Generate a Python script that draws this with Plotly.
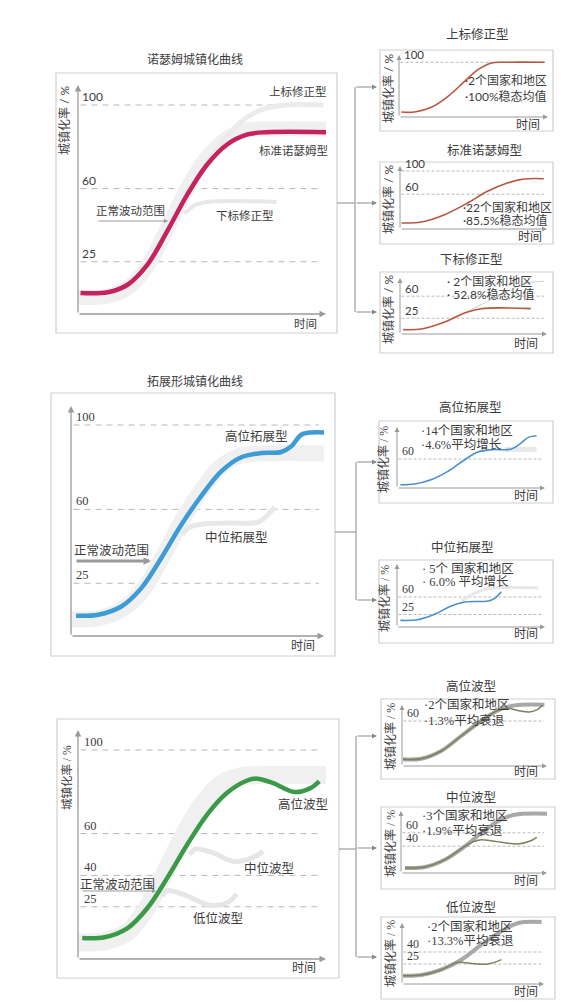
import plotly.graph_objects as go

W, H = 586, 1006


def fx(p):
    return p / W


def fy(p):
    return 1 - p / H


SANS = "Lato, Noto Sans CJK SC, sans-serif"
SERIF = "Liberation Serif, Noto Sans CJK SC, serif"
GRID = "#b8b8b8"
AXIS = "#9a9a9a"
BOX = "#cfcfcf"
TEXT = "#3c3c3c"
BAND = "#f0f0f0"

# ---------------- data (time 0-100, urbanization %) ----------------
# 诺瑟姆城镇化曲线
n_t = [1, 12, 20, 28, 36, 44, 52, 60, 68, 76, 100]
n_std = [10, 10.4, 14, 23.6, 39.7, 57, 71.4, 81, 85.8, 87, 87]
n_band_t = [0, 12, 20, 28, 36, 44, 52, 60, 68, 76, 100]
n_band = [8, 8.5, 12.5, 23, 41, 60, 75, 84, 88, 88.5, 88.5]
n_up_t = [52, 58, 64, 70, 76, 84, 99]
n_up = [72, 82, 90, 95.5, 98.5, 100, 100]
n_low_t = [43, 47, 52, 80]
n_low = [48, 52, 53.6, 53.6]
n_levels = [100, 60, 25]

# 拓展形城镇化曲线
e_t = [2, 10.7, 19.9, 27.8, 35.7, 43.6, 50.9, 59.4, 67.3, 75.2, 83.1, 87.1, 91, 95, 100]
e_high = [9.6, 10.1, 14, 22.7, 37, 52.7, 65.4, 78, 84.7, 86.7, 87.2, 89.9, 95.4, 96.5, 96.5]
e_band_t = [0, 11, 20, 28, 36, 44, 51, 59, 67, 75, 100]
e_band = [8, 8.5, 12.5, 21, 37, 55, 68, 80, 85.5, 86.5, 86.5]
e_mid_t = [44, 46.2, 51.5, 62, 74, 77.9, 80.5]
e_mid = [48, 51.2, 53, 53.5, 54, 57.5, 61]
e_levels = [100, 60, 25]

# 波动形城镇化曲线
w_t = [1.7, 10.7, 20, 28, 36, 44, 52, 60, 68, 72.3, 78.7, 87.3, 93.3, 97.3]
w_high = [10, 10.4, 14.8, 24.4, 38.8, 54.7, 69, 79.4, 85.3, 86.3, 84.2, 79.9, 81.5, 85]
w_band_t = [0, 11, 20, 27, 34, 42, 50, 58, 66, 74, 100]
w_band = [8, 8.5, 13, 23, 39, 58, 74, 84, 87.5, 88, 88]
w_mid_t = [45, 47.3, 54.7, 62.7, 69.3, 74.7]
w_mid = [50, 52.6, 50.7, 46.7, 48, 51.5]
w_low_t = [34, 36, 42.7, 53.3, 60, 64]
w_low = [30, 32.7, 30.8, 25.7, 26.8, 31.1]
w_levels = [100, 60, 40, 25]

# small panels
s1_t = [1.5, 10.5, 21.7, 32.9, 44, 53, 62, 71, 97.8]
s1_v = [9.1, 9.1, 17.7, 37.8, 65, 86.5, 98.7, 100, 100]
s2_t = [1, 14.5, 30.3, 46, 59.5, 73, 84.3, 97.8]
s2_v = [10.3, 12, 24.7, 44.8, 65, 79.3, 86.2, 86.7]
s3_t = [2.2, 14.6, 30.4, 43.9, 55.2, 89]
s3_v = [6.9, 7.9, 19, 33.3, 40.2, 40.2]
s3_ref_t = [43.9, 59.6, 75.3, 86.6, 98]
s3_ref_v = [33.3, 51.9, 70.4, 81, 83.6]

pa_t = [2.3, 11.8, 23, 34.4, 45.7, 54.7, 63.8, 77.3, 83, 88.7, 94.3]
pa_v = [6.8, 8.3, 17.2, 34.5, 58.6, 74.5, 79.3, 80.7, 91, 104.8, 108.2]
pa_ref_t = [73, 94.3]
pa_ref_v = [80, 80]
pb_t = [2.3, 14, 25.4, 36.6, 45.7, 61.5, 66, 70.5]
pb_v = [13.3, 14.6, 25.3, 42, 50, 52, 57.3, 70.6]
pb_ref_t = [43.5, 54.7, 63.8, 95.4]
pb_ref_v = [52, 70.6, 77.3, 78.6]

q1_t = [0.7, 13.3, 27, 40.8, 54.6, 66, 77.6, 98.2]
q1_ref = [8.9, 9.7, 20, 40, 60, 74, 80.8, 81.8]
q1_wt = [0.7, 13.3, 27, 40.8, 54.6, 66, 73, 79.8, 87.9, 93.6, 97]
q1_wave = [8.9, 9.7, 20, 40, 60, 74, 76.9, 74.1, 72, 75.5, 81.3]
q2_t = [2.7, 16.4, 30, 43.7, 55, 66.4, 77.8, 100]
q2_ref = [7.5, 9, 19.9, 39.8, 59.7, 77.2, 87, 88.5]
q2_wt = [2.7, 16.4, 30, 43.7, 50.4, 55, 64, 80, 88, 93]
q2_wave = [7.5, 9, 19.9, 39.8, 47.3, 49.7, 47.3, 43.3, 47.3, 53.3]
q3_t = [0.7, 13.6, 27.7, 41.8, 56, 70, 81.8, 98.3]
q3_ref = [10.4, 11.3, 17.9, 30.4, 49.1, 65.9, 76.3, 77.5]
q3_wt = [0.7, 13.6, 27.7, 37, 40.6, 51.2, 60.6, 70]
q3_wave = [10.4, 11.3, 17.9, 26, 27.1, 25.4, 25, 30.4]

# ---------------- panel geometry (pixels) ----------------
# x0: t=0, x1: t=100, y0: value 0, ytop: arrow top, ppu: px per %
geo = {
    "n": dict(x0=70, x1=318, y0=306, ytop=77, ppu=2.09),
    "e": dict(x0=63, x1=316, y0=628, ytop=398, ppu=2.11),
    "w": dict(x0=70, x1=318, y0=951, ytop=722, ppu=2.09),
    "s1": dict(x0=391, x1=540, y0=109, ytop=47, ppu=0.547),
    "s2": dict(x0=392, x1=539, y0=221, ytop=158, ppu=0.58),
    "s3": dict(x0=392, x1=539, y0=326, ytop=270, ppu=0.63),
    "pa": dict(x0=389, x1=537, y0=480, ytop=419, ppu=0.483),
    "pb": dict(x0=389, x1=537, y0=619, ytop=556, ppu=0.5),
    "q1": dict(x0=394, x1=539, y0=758, ytop=697, ppu=0.75),
    "q2": dict(x0=393, x1=539, y0=865, ytop=803, ppu=0.67),
    "q3": dict(x0=394, x1=536, y0=976, ytop=915, ppu=0.8),
}

fig = go.Figure()
layout = {}
annotations = []
shapes = []
axis_id = {}

for i, (key, g) in enumerate(geo.items(), start=1):
    sx = (g["x1"] - g["x0"]) / 100
    xl, xr = g["x0"] - 6, g["x1"] + 8
    yb, yt = g["y0"] + 6, g["ytop"] - 12
    sfx = "" if i == 1 else str(i)
    layout["xaxis" + sfx] = dict(domain=[fx(xl), fx(xr)],
                                 range=[(xl - g["x0"]) / sx, (xr - g["x0"]) / sx],
                                 visible=False, anchor="y" + sfx, fixedrange=True)
    layout["yaxis" + sfx] = dict(domain=[fy(yb), fy(yt)],
                                 range=[(g["y0"] - yb) / g["ppu"], (g["y0"] - yt) / g["ppu"]],
                                 visible=False, anchor="x" + sfx, fixedrange=True)
    axis_id[key] = ("x" + sfx, "y" + sfx)
    vtop = (g["y0"] - g["ytop"]) / g["ppu"]
    xa, ya = axis_id[key]
    small = key not in ("n", "e", "w")
    aw = 1 if small else 1.3
    # y axis arrow
    annotations.append(dict(x=0, y=vtop, ax=0, ay=0, xref=xa, yref=ya, axref=xa, ayref=ya,
                            showarrow=True, arrowhead=2, arrowsize=1, arrowwidth=aw,
                            arrowcolor=AXIS, text=""))
    # x axis arrow
    annotations.append(dict(x=100, y=0, ax=0, ay=0, xref=xa, yref=ya, axref=xa, ayref=ya,
                            showarrow=True, arrowhead=2, arrowsize=1, arrowwidth=aw,
                            arrowcolor=AXIS, text=""))


def line(key, t, v, color, width, dash=None, shape="spline", smooth=1.0):
    xa, ya = axis_id[key]
    fig.add_trace(go.Scatter(x=t, y=v, xaxis=xa, yaxis=ya, mode="lines",
                             line=dict(color=color, width=width, dash=dash, shape=shape,
                                       smoothing=smooth),
                             hoverinfo="skip", showlegend=False))


def grid(key, levels, dash, family, size, xshift=2):
    xa, ya = axis_id[key]
    for lv in levels:
        line(key, [1, 98], [lv, lv], GRID, 1, dash=dash, shape="linear")
        annotations.append(dict(x=0, y=lv, xref=xa, yref=ya, text=str(lv), showarrow=False,
                                xanchor="left", yanchor="bottom", xshift=xshift, yshift=-1,
                                font=dict(family=family, size=size, color=TEXT)))


def label(text, x, y, size=11.5, family=SANS, xanchor="center", angle=0, color=TEXT):
    annotations.append(dict(x=fx(x), y=fy(y), xref="paper", yref="paper", text=text,
                            showarrow=False, xanchor=xanchor, yanchor="middle",
                            textangle=angle, font=dict(family=family, size=size, color=color)))


def box(x0, y0, x1, y1):
    shapes.append(dict(type="rect", xref="paper", yref="paper", x0=fx(x0), x1=fx(x1),
                       y0=fy(y1), y1=fy(y0), line=dict(color=BOX, width=1.2),
                       fillcolor="rgba(0,0,0,0)", layer="below"))


def seg(x0, y0, x1, y1, color="#8a8a8a", width=1):
    shapes.append(dict(type="line", xref="paper", yref="paper", x0=fx(x0), x1=fx(x1),
                       y0=fy(y0), y1=fy(y1), line=dict(color=color, width=width)))


def arrow(x_tip, y, length, color="#8a8a8a", width=1, size=1):
    annotations.append(dict(x=fx(x_tip), y=fy(y), xref="paper", yref="paper", ax=-length, ay=0,
                            showarrow=True, arrowhead=2, arrowsize=size, arrowwidth=width,
                            arrowcolor=color, text=""))


# ---------------- 诺瑟姆 ----------------
box(48, 65, 329, 325)
grid("n", n_levels, "6px,5px", SANS, 12, 2)
line("n", n_band_t, n_band, BAND, 15)
line("n", n_up_t, n_up, "#ebebeb", 5)
line("n", n_low_t, n_low, "#e8e8e8", 4)
line("n", n_t, n_std, "#c4235f", 4.5)
label("诺瑟姆城镇化曲线", 187, 51, 12)
label("上标修正型", 290, 84)
label("标准诺瑟姆型", 285, 143)
label("下标修正型", 237, 208)
label("正常波动范围", 123, 202)
arrow(160, 213, 71, "#9a9a9a", 1, 0.8)
label("时间", 297, 315, 11.5)
label("城镇化率 / %", 57, 112, 12, angle=-90)

for b in ((42, 123), (154, 236), (264, 345)):
    box(372, b[0], 545, b[1])
grid("s1", [100], "3px,2px", SANS, 11.5, 3)
grid("s2", [100, 60], "3px,2px", SANS, 11.5, 3)
grid("s3", [60, 25], "3px,2px", SANS, 11.5, 3)
line("s3", s3_ref_t, s3_ref_v, "#cfcfcf", 1)
for key, t, v in [("s1", s1_t, s1_v), ("s2", s2_t, s2_v), ("s3", s3_t, s3_v)]:
    line(key, t, v, "#b9563f", 1.6)
label("上标修正型", 469, 27, 12.5)
label("标准诺瑟姆型", 476, 143, 12.5)
label("下标修正型", 463, 252, 12.5)
label("·2个国家和地区", 455, 73, 12, xanchor="left")
label("·100%稳态均值", 455, 88, 12, xanchor="left")
label("·22个国家和地区", 453, 199, 12, xanchor="left")
label("·85.5%稳态均值", 453, 213, 12, xanchor="left")
label("· 2个国家和地区", 437, 273, 12, xanchor="left")
label("· 52.8%稳态均值", 437, 287, 12, xanchor="left")
for yc in (80, 191, 301):
    label("城镇化率 / %", 380, yc, 12, angle=-90)
for xc, yc in ((520, 117), (522, 229), (518, 335)):
    label("时间", xc, yc, 12)
seg(329, 195, 347, 195)
seg(347, 79, 347, 304)
for yy in (79, 195, 304):
    arrow(369, yy, 22)

# ---------------- 拓展形 ----------------
box(43, 385, 327, 648)
grid("e", e_levels, "6px,5px", SERIF, 12.5, 3)
line("e", e_band_t, e_band, BAND, 16)
line("e", e_mid_t, e_mid, "#e8e8e8", 5)
line("e", e_t, e_high, "#3d9bd6", 4.5)
label("拓展形城镇化曲线", 187, 373, 12)
label("高位拓展型", 248, 428, 12.5, SERIF)
label("中位拓展型", 228, 529, 12.5, SERIF)
label("正常波动范围", 103, 543, 12.5, SERIF)
arrow(143, 553, 76, "#9a9a9a", 3, 0.5)
label("时间", 295, 638, 12, SERIF)

box(371, 413, 545, 495)
box(371, 552, 545, 635)
grid("pa", [60], "3px,2px", SERIF, 12, 3)
grid("pb", [60, 25], "3px,2px", SERIF, 12, 3)
line("pa", pa_ref_t, pa_ref_v, "#e8e8e8", 5, shape="linear")
line("pb", pb_ref_t, pb_ref_v, "#e8e8e8", 3)
line("pa", pa_t, pa_v, "#4a8fc9", 1.6)
line("pb", pb_t, pb_v, "#4a8fc9", 1.6)
label("高位拓展型", 462, 400, 12.5, SERIF)
label("中位拓展型", 454, 539, 12.5, SERIF)
label("·14个国家和地区", 411, 422, 12.5, SERIF, xanchor="left")
label("·4.6%平均增长", 411, 436, 12.5, SERIF, xanchor="left")
label("· 5个 国家和地区", 412, 560, 12.5, SERIF, xanchor="left")
label("· 6.0% 平均增长", 412, 573, 12.5, SERIF, xanchor="left")
for yc in (452, 591):
    label("城镇化率 / %", 376, yc, 12, SERIF, angle=-90)
for yc in (488, 626):
    label("时间", 518, yc, 12, SERIF)
seg(327, 524, 348, 524)
seg(348, 454, 348, 592)
for yy in (454, 592):
    arrow(369, yy, 21)

# ---------------- 波动形 ----------------
box(49, 711, 331, 970)
grid("w", w_levels, "6px,5px", SERIF, 12.5, 4)
line("w", w_band_t, w_band, BAND, 18)
line("w", w_mid_t, w_mid, "#e6e6e6", 5)
line("w", w_low_t, w_low, "#e6e6e6", 5)
line("w", w_t, w_high, "#3a9a48", 4.5)
label("高位波型", 295, 796, 12.5, SERIF)
label("中位波型", 261, 860, 12.5, SERIF)
label("低位波型", 210, 910, 12.5, SERIF)
label("正常波动范围", 109, 877, 12.5, SERIF)
arrow(148, 883, 75, "#9a9a9a", 1, 0.8)
label("时间", 296, 960, 12, SERIF)
label("城镇化率 / %", 58, 770, 11.5, SERIF, angle=-90)

for b in ((691, 771), (799, 881), (909, 991)):
    box(373, b[0], 547, b[1])
grid("q1", [60], "3px,2px", SERIF, 12, 3)
grid("q2", [60, 40], "3px,2px", SERIF, 12, 3)
grid("q3", [40, 25], "3px,2px", SERIF, 12, 3)
for key, t, ref, wt, wave in [("q1", q1_t, q1_ref, q1_wt, q1_wave),
                              ("q2", q2_t, q2_ref, q2_wt, q2_wave),
                              ("q3", q3_t, q3_ref, q3_wt, q3_wave)]:
    line(key, t, ref, "#a8a8a8", 4)
    line(key, wt, wave, "#7d8158", 1.5)
label("高位波型", 463, 678, 12.5, SERIF)
label("中位波型", 463, 789, 12.5, SERIF)
label("低位波型", 463, 899, 12.5, SERIF)
label("·2个国家和地区", 414, 696, 12.5, SERIF, xanchor="left")
label("·1.3%平均衰退", 414, 712, 12.5, SERIF, xanchor="left")
label("·3个国家和地区", 412, 807, 12.5, SERIF, xanchor="left")
label("·1.9%平均衰退", 412, 822, 12.5, SERIF, xanchor="left")
label("·2个国家和地区", 417, 918, 12.5, SERIF, xanchor="left")
label("·13.3%平均衰退", 417, 932, 12.5, SERIF, xanchor="left")
for yc in (729, 836, 946):
    label("城镇化率 / %", 382, yc, 12, SERIF, angle=-90)
for yc in (764, 873, 984):
    label("时间", 518, yc, 12, SERIF)
seg(331, 841, 348, 841)
seg(348, 728, 348, 949)
for yy in (728, 840, 949):
    arrow(369, yy, 21)

fig.update_layout(width=W, height=H, margin=dict(l=0, r=0, t=0, b=0),
                  paper_bgcolor="white", plot_bgcolor="rgba(0,0,0,0)",
                  annotations=annotations, shapes=shapes, showlegend=False, **layout)

fig.write_html("out.html")
